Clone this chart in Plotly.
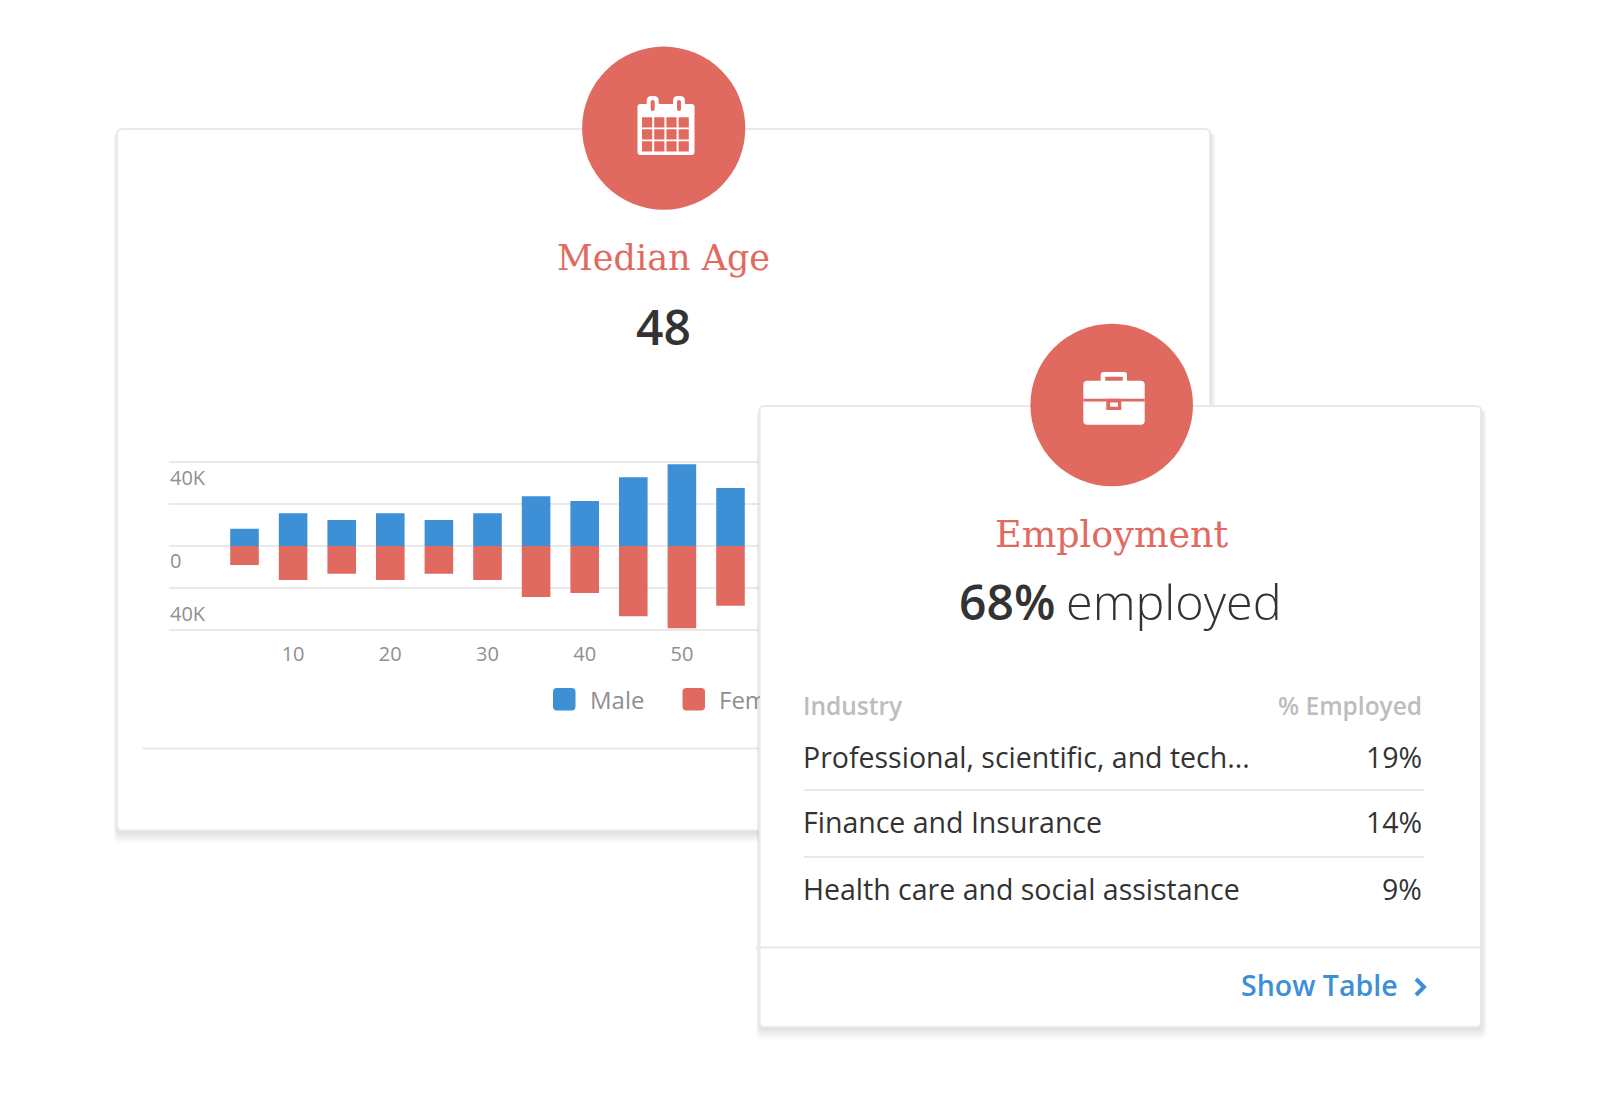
import plotly.graph_objects as go

W = 1600
H = 1120

CORAL = '#e16a60'
BLUE = '#3d90d6'
LINE = '#e9e9e9'
DARK = '#333333'
AXIS_GREY = '#8f8f8f'

# age pyramid data, thousands of people, the bars past 55 sit behind the second card
ages = [5, 10, 15, 20, 25, 30, 35, 40, 45, 50, 55]
male = [8.2, 15.6, 12.4, 15.6, 12.4, 15.6, 23.7, 21.4, 32.7, 38.9, 27.6]
female = [-9.0, -16.2, -13.2, -16.2, -13.2, -16.2, -24.3, -22.4, -33.5, -39.2, -28.4]

x_ticks = [10, 20, 30, 40, 50]
y_grid = [-40, -20, 0, 20, 40]
y_label_vals = [40, 0, -40]
y_label_text = ['40K', '0', '40K']
y_label_shift = [-16, -14, 17]

industries = ['Professional, scientific, and tech...', 'Finance and Insurance',
              'Health care and social assistance']
employed = ['19%', '14%', '9%']
row_y = [757, 822, 889]


def px(x):
    return x / W


def py(y):
    return 1 - y / H


def rounded(x0, y0, x1, y1, r):
    # rounded rectangle as an svg path in paper coordinates
    return (f'M {px(x0 + r)} {py(y0)} L {px(x1 - r)} {py(y0)} Q {px(x1)} {py(y0)} {px(x1)} {py(y0 + r)} '
            f'L {px(x1)} {py(y1 - r)} Q {px(x1)} {py(y1)} {px(x1 - r)} {py(y1)} '
            f'L {px(x0 + r)} {py(y1)} Q {px(x0)} {py(y1)} {px(x0)} {py(y1 - r)} '
            f'L {px(x0)} {py(y0 + r)} Q {px(x0)} {py(y0)} {px(x0 + r)} {py(y0)} Z')


shapes = []


def box(x0, y0, x1, y1, r, color, layer='above', line=None, width=0):
    shapes.append(dict(type='path', path=rounded(x0, y0, x1, y1, r), xref='paper', yref='paper',
                       fillcolor=color, layer=layer,
                       line=dict(color=line or color, width=width)))


def hline(x0, x1, y, layer='above'):
    shapes.append(dict(type='line', xref='paper', yref='paper', x0=px(x0), x1=px(x1), y0=py(y), y1=py(y),
                       line=dict(color=LINE, width=2), layer=layer))


def card(x0, y0, x1, y1, layer):
    # soft shadow, then the white card
    for i in range(8, 0, -1):
        box(x0 - i * 0.4, y0 + 3, x1 + i * 0.7, y1 + i * 1.5, 6, 'rgba(90,90,90,0.025)', layer)
    box(x0, y0, x1, y1, 5, 'white', layer, LINE, 2)


def circle(cx, cy, r, layer='above'):
    shapes.append(dict(type='circle', xref='paper', yref='paper', x0=px(cx - r), x1=px(cx + r),
                       y0=py(cy - r), y1=py(cy + r), fillcolor=CORAL, line=dict(width=0), layer=layer))


# first card
card(117, 129, 1210, 830.5, 'below')
hline(142, 1200, 748.5, 'below')
circle(663.7, 128.2, 81.6)

# calendar icon
box(646.7, 96, 658.7, 112, 5, 'white')
box(673, 96, 685, 112, 5, 'white')
box(637.5, 104, 694.5, 155, 3, 'white')
box(650.7, 100, 654.7, 111, 2, CORAL)
box(677, 100, 681, 111, 2, CORAL)
for col in range(4):
    for row in range(3):
        cx = 642 + col * 12.2
        cy = 117.3 + row * 12
        box(cx, cy, cx + 10.2, cy + 10.2, 0.5, CORAL)

# legend squares of the first card
box(553, 688, 575.5, 710.5, 4, BLUE, 'below')
box(682.5, 688, 705, 710.5, 4, CORAL, 'below')

# second card, covers the end of the chart
card(759.5, 406, 1481, 1027, 'above')
hline(756, 1481, 947.5)
hline(804, 1424.5, 790)
hline(804, 1424.5, 857)
circle(1111.7, 405, 81.3)

# briefcase icon
box(1100.7, 372, 1127, 384, 3, 'white')
box(1105.3, 376.7, 1122.7, 382, 0.5, CORAL)
box(1083.3, 380.7, 1144.7, 424.7, 4, 'white')
box(1083.3, 398.7, 1144.7, 401.5, 0.1, CORAL)
box(1106.3, 398.7, 1121.3, 410, 0.5, CORAL)
box(1110, 402.5, 1118, 406.7, 0.3, 'white')

# chevron of the show table link
shapes.append(dict(type='path', xref='paper', yref='paper', layer='above',
                   path=f'M {px(1416)} {py(979)} L {px(1424)} {py(987)} L {px(1416)} {py(995)}',
                   line=dict(color=BLUE, width=4)))

annotations = []


def label(text, x, y, size, color, anchor='center', family='Open Sans', weight=400, **kw):
    annotations.append(dict(text=text, x=px(x), y=py(y), xref='paper', yref='paper', xanchor=anchor,
                            yanchor='middle', showarrow=False, borderpad=0,
                            font=dict(family=family, size=size, color=color, weight=weight), **kw))


label('Median Age', 663.5, 257.5, 35, CORAL, family='DejaVu Serif')
label('48', 663.5, 326, 48, DARK, weight=600)
label('Male', 589, 699, 24, AXIS_GREY, anchor='left')
label('Female', 718, 699, 24, AXIS_GREY, anchor='left', width=41, align='left')

label('Employment', 1112, 534.5, 36.5, CORAL, family='DejaVu Serif')
label('68%', 1056, 601, 48, DARK, anchor='right', weight=600)
label('employed', 1065, 601, 48.5, DARK, anchor='left', weight=300)
label('Industry', 802, 705, 24.5, '#bdbdbd', anchor='left', weight=600)
label('% Employed', 1422.5, 705, 24.5, '#bdbdbd', anchor='right', weight=600)
for name, pct, y in zip(industries, employed, row_y):
    label(name, 801.5, y, 28.5, DARK, anchor='left')
    label(pct, 1423, y, 28.5, DARK, anchor='right')
label('Show Table', 1398.5, 985, 28.5, BLUE, anchor='right', weight=600)

# y labels sit under or over their grid lines
for val, txt, shift in zip(y_label_vals, y_label_text, y_label_shift):
    annotations.append(dict(text=txt, x=px(169), y=val, xref='paper', yref='y', xanchor='left', yanchor='middle',
                            yshift=shift, showarrow=False, borderpad=0,
                            font=dict(family='Open Sans', size=20, color=AXIS_GREY, weight=400)))

fig = go.Figure()
fig.add_trace(go.Bar(x=ages, y=male, name='Male', marker=dict(color=BLUE, line=dict(width=0)), width=2.94))
fig.add_trace(go.Bar(x=ages, y=female, name='Female', marker=dict(color=CORAL, line=dict(width=0)), width=2.94))

plot_left = 169
plot_right = 1100
unit = 48.6 / 5  # pixels per year of age
x_min = 5 - (244.5 - plot_left) / unit
x_max = x_min + (plot_right - plot_left) / unit

fig.update_layout(
    width=W, height=H, margin=dict(l=0, r=0, t=0, b=0, pad=0), autosize=False,
    paper_bgcolor='white', plot_bgcolor='rgba(0,0,0,0)',
    barmode='relative', showlegend=False,
    font=dict(family='Open Sans', color=AXIS_GREY),
    shapes=shapes, annotations=annotations,
    xaxis=dict(domain=[px(plot_left), px(plot_right)], range=[x_min, x_max], tickmode='array', tickvals=x_ticks,
               showgrid=False, zeroline=False, showline=False, ticks='outside', ticklen=2,
               tickcolor='rgba(0,0,0,0)',
               tickfont=dict(family='Open Sans', size=20, color=AXIS_GREY, weight=400),
               anchor='y'),
    # 2.1 px per thousand, range padded so the outer grid lines are drawn
    yaxis=dict(domain=[py(634.2), py(457.8)], range=[-42, 42], tickmode='array', tickvals=y_grid,
               showticklabels=False, showgrid=True, gridcolor=LINE, gridwidth=2,
               zeroline=False, showline=False, ticks=''),
)

fig.write_html('out.html', config={'displayModeBar': False}, post_script="document.body.style.margin='0';")
